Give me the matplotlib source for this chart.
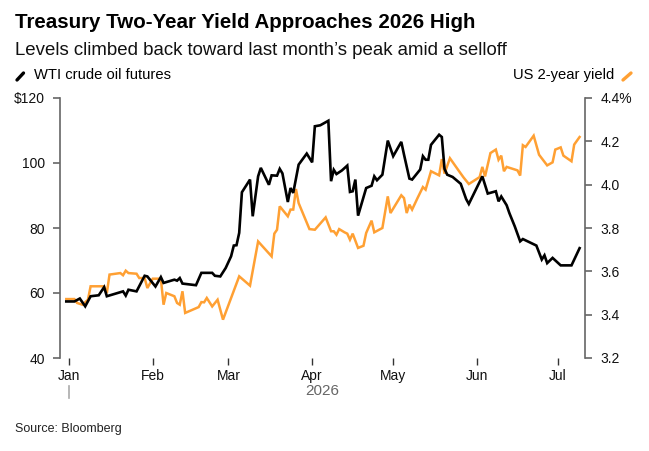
import matplotlib.pyplot as plt
import pandas as pd
from matplotlib.lines import Line2D

plt.rcParams['font.family'] = ['Liberation Sans', 'DejaVu Sans']

# WTI crude oil futures, $ per barrel
wti_dates = [
    "2025-12-31", "2026-01-03", "2026-01-05", "2026-01-07", "2026-01-09", "2026-01-12",
    "2026-01-14", "2026-01-15", "2026-01-21", "2026-01-22", "2026-01-23", "2026-01-26",
    "2026-01-29", "2026-01-30", "2026-02-02", "2026-02-04", "2026-02-05", "2026-02-09",
    "2026-02-10", "2026-02-11", "2026-02-12", "2026-02-17", "2026-02-19", "2026-02-23",
    "2026-02-24", "2026-02-26", "2026-02-28", "2026-03-02", "2026-03-03", "2026-03-04",
    "2026-03-05", "2026-03-06", "2026-03-09", "2026-03-10", "2026-03-12", "2026-03-13",
    "2026-03-16", "2026-03-17", "2026-03-19", "2026-03-20", "2026-03-21", "2026-03-23",
    "2026-03-24", "2026-03-25", "2026-03-27", "2026-03-30", "2026-04-01", "2026-04-02",
    "2026-04-04", "2026-04-07", "2026-04-08", "2026-04-09", "2026-04-10", "2026-04-12",
    "2026-04-14", "2026-04-15", "2026-04-16", "2026-04-17", "2026-04-18", "2026-04-21",
    "2026-04-23", "2026-04-24", "2026-04-25", "2026-04-27", "2026-04-29", "2026-05-01",
    "2026-05-04", "2026-05-05", "2026-05-07", "2026-05-08", "2026-05-11", "2026-05-12",
    "2026-05-13", "2026-05-14", "2026-05-15", "2026-05-18", "2026-05-19", "2026-05-20",
    "2026-05-21", "2026-05-23", "2026-05-26", "2026-05-28", "2026-05-29", "2026-06-03",
    "2026-06-05", "2026-06-08", "2026-06-09", "2026-06-10", "2026-06-12", "2026-06-13",
    "2026-06-15", "2026-06-17", "2026-06-18", "2026-06-23", "2026-06-25", "2026-06-26",
    "2026-06-27", "2026-06-29", "2026-07-02", "2026-07-06", "2026-07-09",
]
wti_values = [
    57.4, 57.4, 58.3, 55.9, 59.0, 59.3,
    61.8, 59.0, 60.5, 59.2, 61.0, 60.5,
    65.3, 65.1, 62.0, 64.9, 63.1, 64.1,
    63.8, 64.6, 62.9, 62.4, 66.2, 66.2,
    65.3, 65.1, 67.7, 71.3, 74.6, 74.7,
    78.5, 91.0, 94.9, 83.6, 95.9, 98.5,
    93.3, 96.2, 96.1, 98.2, 96.8, 88.0,
    92.3, 90.8, 99.5, 102.9, 100.2, 111.3,
    111.6, 113.0, 94.4, 97.9, 96.6, 97.7,
    99.2, 91.1, 91.3, 94.9, 83.8, 92.3,
    93.0, 95.9, 94.7, 96.4, 106.9, 102.1,
    106.5, 102.6, 95.2, 94.9, 98.0, 102.1,
    101.0, 101.0, 105.6, 108.7, 108.0, 98.2,
    96.4, 95.7, 93.6, 88.9, 87.4, 95.9,
    90.6, 91.3, 88.2, 89.7, 87.0, 84.6,
    80.5, 75.9, 76.6, 74.6, 70.3, 71.6,
    69.2, 70.8, 68.5, 68.5, 73.8,
]

# US 2-year Treasury yield, %
yield_dates = [
    "2025-12-31", "2026-01-03", "2026-01-04", "2026-01-06", "2026-01-08", "2026-01-09",
    "2026-01-14", "2026-01-15", "2026-01-16", "2026-01-20", "2026-01-21", "2026-01-22",
    "2026-01-23", "2026-01-26", "2026-01-27", "2026-01-29", "2026-01-30", "2026-02-01",
    "2026-02-04", "2026-02-05", "2026-02-06", "2026-02-09", "2026-02-10", "2026-02-11",
    "2026-02-12", "2026-02-13", "2026-02-18", "2026-02-19", "2026-02-20", "2026-02-21",
    "2026-02-23", "2026-02-25", "2026-02-27", "2026-03-05", "2026-03-09", "2026-03-12",
    "2026-03-17", "2026-03-18", "2026-03-19", "2026-03-20", "2026-03-23", "2026-03-24",
    "2026-03-25", "2026-03-26", "2026-03-27", "2026-03-31", "2026-04-02", "2026-04-06",
    "2026-04-08", "2026-04-09", "2026-04-10", "2026-04-11", "2026-04-13", "2026-04-14",
    "2026-04-15", "2026-04-16", "2026-04-18", "2026-04-20", "2026-04-21", "2026-04-23",
    "2026-04-24", "2026-04-27", "2026-04-29", "2026-04-30", "2026-05-04", "2026-05-05",
    "2026-05-06", "2026-05-07", "2026-05-08", "2026-05-10", "2026-05-12", "2026-05-13",
    "2026-05-15", "2026-05-18", "2026-05-19", "2026-05-20", "2026-05-22", "2026-05-25",
    "2026-05-27", "2026-05-29", "2026-06-02", "2026-06-03", "2026-06-04", "2026-06-06",
    "2026-06-08", "2026-06-09", "2026-06-10", "2026-06-11", "2026-06-12", "2026-06-16",
    "2026-06-17", "2026-06-18", "2026-06-19", "2026-06-22", "2026-06-24", "2026-06-27",
    "2026-06-29", "2026-06-30", "2026-07-02", "2026-07-03", "2026-07-06", "2026-07-07",
    "2026-07-09",
]
yield_values = [
    3.472, 3.472, 3.454, 3.446, 3.469, 3.531,
    3.531, 3.500, 3.585, 3.592, 3.582, 3.603,
    3.592, 3.589, 3.569, 3.569, 3.523, 3.566,
    3.566, 3.446, 3.500, 3.485, 3.454, 3.446,
    3.508, 3.408, 3.435, 3.458, 3.457, 3.477,
    3.438, 3.469, 3.377, 3.577, 3.534, 3.738,
    3.669, 3.774, 3.792, 3.900, 3.854, 3.885,
    3.885, 3.980, 3.915, 3.795, 3.792, 3.849,
    3.785, 3.785, 3.769, 3.795, 3.780, 3.774,
    3.746, 3.774, 3.708, 3.718, 3.777, 3.834,
    3.780, 3.800, 3.946, 3.869, 3.951, 3.938,
    3.869, 3.908, 3.885, 3.938, 3.989, 3.977,
    4.062, 4.043, 4.118, 4.051, 4.122, 4.069,
    4.034, 4.003, 4.035, 4.082, 4.038, 4.146,
    4.162, 4.115, 4.134, 4.062, 4.082, 4.066,
    4.042, 4.182, 4.174, 4.226, 4.138, 4.089,
    4.103, 4.162, 4.172, 4.134, 4.108, 4.185,
    4.220,
]

left_ticks = [40, 60, 80, 100, 120]
left_labels = ["40", "60", "80", "100", "$120"]
right_ticks = [3.2, 3.4, 3.6, 3.8, 4.0, 4.2, 4.4]
right_labels = ["3.2", "3.4", "3.6", "3.8", "4.0", "4.2", "4.4%"]
month_ticks = ["2026-01-01", "2026-02-01", "2026-03-01", "2026-04-01",
               "2026-05-01", "2026-06-01", "2026-07-01"]
month_labels = ["Jan", "Feb", "Mar", "Apr", "May", "Jun", "Jul"]

BLACK = "#000000"
ORANGE = "#ffa033"
SPINE = "#666666"

W, H = 649, 451
fig = plt.figure(figsize=(W / 100, H / 100), dpi=100)


def fx(px):
    return px / W


def fy(py):
    return 1 - py / H


ax = fig.add_axes([fx(60), fy(358), 525 / W, 260 / H])
ax2 = ax.twinx()

ax.plot(pd.to_datetime(wti_dates), wti_values, color=BLACK, lw=1.9,
        solid_joinstyle="miter")
ax2.plot(pd.to_datetime(yield_dates), yield_values, color=ORANGE, lw=1.8,
         solid_joinstyle="miter")

# black line above orange
ax.set_zorder(ax2.get_zorder() + 1)
ax.patch.set_visible(False)

ax.set_xlim(pd.Timestamp("2025-12-28 16:00"), pd.Timestamp("2026-07-11"))
ax.set_ylim(40, 120)
ax2.set_ylim(3.2, 4.4)

ax.set_yticks(left_ticks, left_labels)
ax2.set_yticks(right_ticks, right_labels)
ax.set_xticks(pd.to_datetime(month_ticks), month_labels)

for a in (ax, ax2):
    for side in ("top", "bottom", "left", "right"):
        a.spines[side].set_visible(False)

ax.spines["left"].set_visible(True)
ax.spines["left"].set_color(SPINE)
ax.spines["left"].set_linewidth(1.2)
ax2.spines["right"].set_visible(True)
ax2.spines["right"].set_color(SPINE)
ax2.spines["right"].set_linewidth(1.2)

ax.tick_params(axis="y", direction="out", length=5, width=1.2, color=SPINE,
               pad=6, labelsize=10, labelcolor="#111111")
ax2.tick_params(axis="y", direction="out", length=5, width=1.2, color=SPINE,
                pad=6, labelsize=10, labelcolor="#111111")
ax.tick_params(axis="x", direction="out", length=5, width=1, color="#333333",
               pad=3, labelsize=10, labelcolor="#111111")

# year marker under January
ax.plot([pd.Timestamp("2026-01-01")] * 2, [-0.108, -0.154], color="#aaaaaa",
        lw=1.2, transform=ax.get_xaxis_transform(), clip_on=False)
fig.text(fx(322.5), fy(395), "2026", ha="center", va="baseline",
         fontsize=11, color="#666666")

fig.text(fx(15), fy(27.7), "Treasury Two-Year Yield Approaches 2026 High",
         fontsize=14.75, weight="bold", va="baseline", color="#000000")
fig.text(fx(15), fy(55), "Levels climbed back toward last month\u2019s peak amid a selloff",
         fontsize=13.4, va="baseline", color="#111111")

# legend
fig.add_artist(Line2D([fx(17), fx(23.5)], [fy(80), fy(73)], color=BLACK, lw=2.4,
                      solid_capstyle="round"))
fig.text(fx(34), fy(79), "WTI crude oil futures", fontsize=10.6, va="baseline")
fig.add_artist(Line2D([fx(623), fx(631)], [fy(80), fy(73)], color=ORANGE, lw=2.4,
                      solid_capstyle="round"))
fig.text(fx(614), fy(79), "US 2-year yield", fontsize=10.6, va="baseline", ha="right")

fig.text(fx(15), fy(432), "Source: Bloomberg", fontsize=9, va="baseline",
         color="#222222")

fig.savefig("out.png", dpi=100)
